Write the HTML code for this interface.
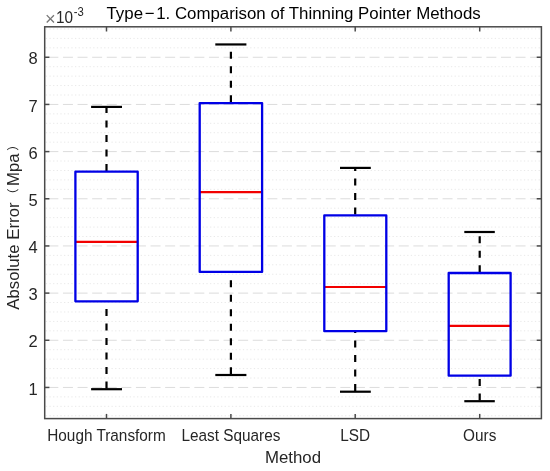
<!DOCTYPE html>
<html><head><meta charset="utf-8"><title>Boxplot</title><style>html,body{margin:0;padding:0;background:#fff;width:550px;height:471px;overflow:hidden}svg{display:block;filter:blur(0.35px)}</style></head><body>
<svg width="550" height="471" viewBox="0 0 550 471">
<rect x="0" y="0" width="550" height="471" fill="#fff"/>
<g stroke="#e9e9e9" stroke-width="1" stroke-dasharray="1.3 2.35" stroke-dashoffset="2.58"><line x1="44.7" x2="541.4" y1="415.75" y2="415.75"/><line x1="44.7" x2="541.4" y1="406.32" y2="406.32"/><line x1="44.7" x2="541.4" y1="396.88" y2="396.88"/><line x1="44.7" x2="541.4" y1="378.02" y2="378.02"/><line x1="44.7" x2="541.4" y1="368.58" y2="368.58"/><line x1="44.7" x2="541.4" y1="359.15" y2="359.15"/><line x1="44.7" x2="541.4" y1="349.71" y2="349.71"/><line x1="44.7" x2="541.4" y1="330.85" y2="330.85"/><line x1="44.7" x2="541.4" y1="321.41" y2="321.41"/><line x1="44.7" x2="541.4" y1="311.98" y2="311.98"/><line x1="44.7" x2="541.4" y1="302.54" y2="302.54"/><line x1="44.7" x2="541.4" y1="283.68" y2="283.68"/><line x1="44.7" x2="541.4" y1="274.24" y2="274.24"/><line x1="44.7" x2="541.4" y1="264.81" y2="264.81"/><line x1="44.7" x2="541.4" y1="255.37" y2="255.37"/><line x1="44.7" x2="541.4" y1="236.51" y2="236.51"/><line x1="44.7" x2="541.4" y1="227.07" y2="227.07"/><line x1="44.7" x2="541.4" y1="217.64" y2="217.64"/><line x1="44.7" x2="541.4" y1="208.20" y2="208.20"/><line x1="44.7" x2="541.4" y1="189.34" y2="189.34"/><line x1="44.7" x2="541.4" y1="179.90" y2="179.90"/><line x1="44.7" x2="541.4" y1="170.47" y2="170.47"/><line x1="44.7" x2="541.4" y1="161.03" y2="161.03"/><line x1="44.7" x2="541.4" y1="142.17" y2="142.17"/><line x1="44.7" x2="541.4" y1="132.73" y2="132.73"/><line x1="44.7" x2="541.4" y1="123.30" y2="123.30"/><line x1="44.7" x2="541.4" y1="113.86" y2="113.86"/><line x1="44.7" x2="541.4" y1="95.00" y2="95.00"/><line x1="44.7" x2="541.4" y1="85.56" y2="85.56"/><line x1="44.7" x2="541.4" y1="76.13" y2="76.13"/><line x1="44.7" x2="541.4" y1="66.69" y2="66.69"/><line x1="44.7" x2="541.4" y1="47.83" y2="47.83"/><line x1="44.7" x2="541.4" y1="38.39" y2="38.39"/><line x1="44.7" x2="541.4" y1="28.96" y2="28.96"/></g>
<g stroke="#dcdcdc" stroke-width="1" stroke-dasharray="10 4.6" stroke-dashoffset="10.95"><line x1="44.7" x2="541.4" y1="387.45" y2="387.45"/><line x1="44.7" x2="541.4" y1="340.28" y2="340.28"/><line x1="44.7" x2="541.4" y1="293.11" y2="293.11"/><line x1="44.7" x2="541.4" y1="245.94" y2="245.94"/><line x1="44.7" x2="541.4" y1="198.77" y2="198.77"/><line x1="44.7" x2="541.4" y1="151.60" y2="151.60"/><line x1="44.7" x2="541.4" y1="104.43" y2="104.43"/><line x1="44.7" x2="541.4" y1="57.26" y2="57.26"/></g>
<line x1="106.5" x2="106.5" y1="171.7" y2="106.9" stroke="#000" stroke-width="2.2" stroke-dasharray="7 7.5" stroke-dashoffset="-0.8"/>
<line x1="106.5" x2="106.5" y1="389.2" y2="301.3" stroke="#000" stroke-width="2.2" stroke-dasharray="7 7.5" stroke-dashoffset="-0.8"/>
<line x1="91.1" x2="122.0" y1="106.9" y2="106.9" stroke="#000" stroke-width="2.2"/>
<line x1="91.1" x2="122.0" y1="389.2" y2="389.2" stroke="#000" stroke-width="2.2"/>
<line x1="75.4" x2="137.7" y1="241.9" y2="241.9" stroke="#f20000" stroke-width="2.2"/>
<rect x="75.4" y="171.7" width="62.30" height="129.60" fill="none" stroke="#0000e6" stroke-width="2.3" stroke-linejoin="round"/>
<line x1="230.9" x2="230.9" y1="103.1" y2="44.45" stroke="#000" stroke-width="2.2" stroke-dasharray="7 7.5" stroke-dashoffset="-0.8"/>
<line x1="230.9" x2="230.9" y1="375.0" y2="271.9" stroke="#000" stroke-width="2.2" stroke-dasharray="7 7.5" stroke-dashoffset="-0.8"/>
<line x1="215.3" x2="246.4" y1="44.45" y2="44.45" stroke="#000" stroke-width="2.2"/>
<line x1="215.3" x2="246.4" y1="375.0" y2="375.0" stroke="#000" stroke-width="2.2"/>
<line x1="199.7" x2="262.1" y1="192.1" y2="192.1" stroke="#f20000" stroke-width="2.2"/>
<rect x="199.7" y="103.1" width="62.40" height="168.80" fill="none" stroke="#0000e6" stroke-width="2.3" stroke-linejoin="round"/>
<line x1="355.2" x2="355.2" y1="215.4" y2="167.9" stroke="#000" stroke-width="2.2" stroke-dasharray="7 7.5" stroke-dashoffset="-0.8"/>
<line x1="355.2" x2="355.2" y1="391.7" y2="331.2" stroke="#000" stroke-width="2.2" stroke-dasharray="7 7.5" stroke-dashoffset="-0.8"/>
<line x1="340.0" x2="370.8" y1="167.9" y2="167.9" stroke="#000" stroke-width="2.2"/>
<line x1="340.0" x2="370.8" y1="391.7" y2="391.7" stroke="#000" stroke-width="2.2"/>
<line x1="324.3" x2="386.3" y1="287.0" y2="287.0" stroke="#f20000" stroke-width="2.2"/>
<rect x="324.3" y="215.4" width="62.00" height="115.80" fill="none" stroke="#0000e6" stroke-width="2.3" stroke-linejoin="round"/>
<line x1="479.7" x2="479.7" y1="273.0" y2="232.0" stroke="#000" stroke-width="2.2" stroke-dasharray="7 7.5" stroke-dashoffset="-0.8"/>
<line x1="479.7" x2="479.7" y1="401.2" y2="375.7" stroke="#000" stroke-width="2.2" stroke-dasharray="7 7.5" stroke-dashoffset="-0.8"/>
<line x1="464.3" x2="494.8" y1="232.0" y2="232.0" stroke="#000" stroke-width="2.2"/>
<line x1="464.3" x2="494.8" y1="401.2" y2="401.2" stroke="#000" stroke-width="2.2"/>
<line x1="448.7" x2="510.6" y1="325.9" y2="325.9" stroke="#f20000" stroke-width="2.2"/>
<rect x="448.7" y="273.0" width="61.90" height="102.70" fill="none" stroke="#0000e6" stroke-width="2.3" stroke-linejoin="round"/>
<rect x="44.7" y="26.8" width="496.70" height="391.80" fill="none" stroke="#4a4a4a" stroke-width="1.5"/>
<g stroke="#4a4a4a" stroke-width="1.5"><line x1="44.7" x2="49.400000000000006" y1="387.45" y2="387.45"/><line x1="536.6999999999999" x2="541.4" y1="387.45" y2="387.45"/><line x1="44.7" x2="49.400000000000006" y1="340.28" y2="340.28"/><line x1="536.6999999999999" x2="541.4" y1="340.28" y2="340.28"/><line x1="44.7" x2="49.400000000000006" y1="293.11" y2="293.11"/><line x1="536.6999999999999" x2="541.4" y1="293.11" y2="293.11"/><line x1="44.7" x2="49.400000000000006" y1="245.94" y2="245.94"/><line x1="536.6999999999999" x2="541.4" y1="245.94" y2="245.94"/><line x1="44.7" x2="49.400000000000006" y1="198.77" y2="198.77"/><line x1="536.6999999999999" x2="541.4" y1="198.77" y2="198.77"/><line x1="44.7" x2="49.400000000000006" y1="151.60" y2="151.60"/><line x1="536.6999999999999" x2="541.4" y1="151.60" y2="151.60"/><line x1="44.7" x2="49.400000000000006" y1="104.43" y2="104.43"/><line x1="536.6999999999999" x2="541.4" y1="104.43" y2="104.43"/><line x1="44.7" x2="49.400000000000006" y1="57.26" y2="57.26"/><line x1="536.6999999999999" x2="541.4" y1="57.26" y2="57.26"/><line x1="106.5" x2="106.5" y1="26.8" y2="31.5"/><line x1="106.5" x2="106.5" y1="413.90000000000003" y2="418.6"/><line x1="230.9" x2="230.9" y1="26.8" y2="31.5"/><line x1="230.9" x2="230.9" y1="413.90000000000003" y2="418.6"/><line x1="355.2" x2="355.2" y1="26.8" y2="31.5"/><line x1="355.2" x2="355.2" y1="413.90000000000003" y2="418.6"/><line x1="479.7" x2="479.7" y1="26.8" y2="31.5"/><line x1="479.7" x2="479.7" y1="413.90000000000003" y2="418.6"/></g>
<text x="37.7" y="394.65" font-family="'Liberation Sans', sans-serif" font-size="16.5" fill="#262626" text-anchor="end">1</text>
<text x="37.7" y="347.48" font-family="'Liberation Sans', sans-serif" font-size="16.5" fill="#262626" text-anchor="end">2</text>
<text x="37.7" y="300.31" font-family="'Liberation Sans', sans-serif" font-size="16.5" fill="#262626" text-anchor="end">3</text>
<text x="37.7" y="253.14" font-family="'Liberation Sans', sans-serif" font-size="16.5" fill="#262626" text-anchor="end">4</text>
<text x="37.7" y="205.97" font-family="'Liberation Sans', sans-serif" font-size="16.5" fill="#262626" text-anchor="end">5</text>
<text x="37.7" y="158.80" font-family="'Liberation Sans', sans-serif" font-size="16.5" fill="#262626" text-anchor="end">6</text>
<text x="37.7" y="111.63" font-family="'Liberation Sans', sans-serif" font-size="16.5" fill="#262626" text-anchor="end">7</text>
<text x="37.7" y="64.46" font-family="'Liberation Sans', sans-serif" font-size="16.5" fill="#262626" text-anchor="end">8</text>
<text transform="translate(106.5,440.9) scale(1,1.08)" font-family="'Liberation Sans', sans-serif" font-size="15.35" fill="#262626" text-anchor="middle">Hough Transform</text>
<text transform="translate(230.9,440.9) scale(1,1.08)" font-family="'Liberation Sans', sans-serif" font-size="15.35" fill="#262626" text-anchor="middle">Least Squares</text>
<text transform="translate(355.2,440.9) scale(1,1.08)" font-family="'Liberation Sans', sans-serif" font-size="15.35" fill="#262626" text-anchor="middle">LSD</text>
<text transform="translate(479.7,440.9) scale(1,1.08)" font-family="'Liberation Sans', sans-serif" font-size="15.35" fill="#262626" text-anchor="middle">Ours</text>
<text x="50.4" y="24.5" font-family="'Liberation Sans', sans-serif" font-size="18.3" fill="#777" text-anchor="middle">×</text>
<text transform="translate(55.9,22.75) scale(1,1.1)" font-family="'Liberation Sans', sans-serif" font-size="15.3" fill="#262626">10<tspan font-size="11.3" dx="0.8" dy="-5.9">-3</tspan></text>
<text x="106.5" y="19.2" font-family="'Liberation Sans', sans-serif" font-size="16.85" fill="#000">Type<tspan dx="1.7">−</tspan><tspan dx="1.6">1. Comparison of Thinning Pointer Methods</tspan></text>
<text x="293" y="462.5" font-family="'Liberation Sans', sans-serif" font-size="16.8" fill="#262626" text-anchor="middle">Method</text>
<g transform="translate(19.2,0) rotate(-90)" fill="#262626">
<text x="-309.7" y="0" font-family="'Liberation Sans', sans-serif" font-size="16.8">Absolute Error</text>
<text x="-194.6" y="-1.0" font-family="'Liberation Sans', 'Noto Sans CJK SC', sans-serif" font-size="12" text-anchor="middle">（</text>
<text x="-186" y="0" font-family="'Liberation Sans', sans-serif" font-size="16.8">Mpa</text>
<text x="-144.8" y="-1.0" font-family="'Liberation Sans', 'Noto Sans CJK SC', sans-serif" font-size="12" text-anchor="middle">）</text>
</g>
</svg>
</body></html>
